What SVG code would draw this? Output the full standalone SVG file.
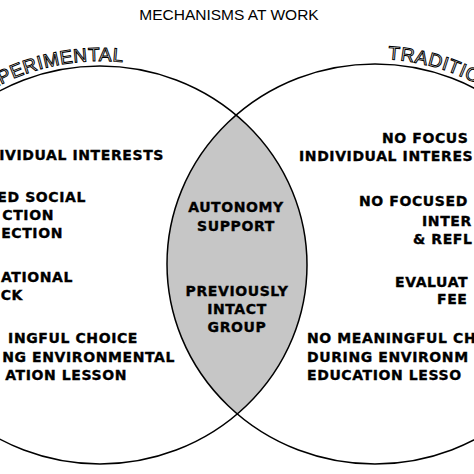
<svg xmlns="http://www.w3.org/2000/svg" width="474" height="474" viewBox="0 0 474 474">
<style>
.t{font-family:"DejaVu Sans","Liberation Sans",sans-serif;font-weight:bold;font-size:14px;letter-spacing:0.6px;fill:#000;stroke:#000;stroke-width:0.35}
.e{text-anchor:end}
.m{text-anchor:middle}
.ring{fill:none;stroke:#000;stroke-width:1.5}
.arc{font-family:"Liberation Sans",Arial,sans-serif;font-size:19px;letter-spacing:0.6px;fill:#fff;stroke:#000;stroke-width:1}
.title{font-family:"Liberation Sans",Arial,sans-serif;font-size:15.5px;fill:#000;text-anchor:middle}
</style>
<defs>
<clipPath id="leftClip"><ellipse cx="100" cy="265" rx="207" ry="199"/></clipPath>
<path id="leftArc" d="M-112,265 A212,204 0 0 1 312,265"/>
<path id="rightArc" d="M162,264 A213,205 0 0 1 588,264"/>
</defs>
<rect width="474" height="474" fill="#fff"/>
<text class="title" x="229" y="19.5">MECHANISMS AT WORK</text>
<g id="overlap">
<ellipse cx="375" cy="264" rx="208" ry="200" fill="#c6c6c6" clip-path="url(#leftClip)"/>
</g>
<g id="experimental">
<ellipse class="ring" cx="100" cy="265" rx="207" ry="199"/>
<text class="arc"><textPath href="#leftArc" startOffset="350" text-anchor="end">EXPERIMENTAL</textPath></text>
<text class="t e" x="164" y="160">IVIDUAL INTERESTS</text>
<text class="t e" x="86" y="202">ED SOCIAL</text>
<text class="t e" x="54" y="220">CTION</text>
<text class="t e" x="63" y="238">ECTION</text>
<text class="t e" x="73" y="282">ATIONAL</text>
<text class="t e" x="23" y="300">CK</text>
<text class="t e" x="138" y="343">INGFUL CHOICE</text>
<text class="t e" x="175" y="361.5">NG ENVIRONMENTAL</text>
<text class="t e" x="127" y="380">ATION LESSON</text>
</g>
<g id="traditional">
<ellipse class="ring" cx="375" cy="264" rx="208" ry="200"/>
<text class="arc"><textPath href="#rightArc" startOffset="341">TRADITIONAL</textPath></text>
<text class="t" x="382" y="143">NO FOCUS</text>
<text class="t" x="299" y="161">INDIVIDUAL INTERES</text>
<text class="t" x="359" y="206">NO FOCUSED</text>
<text class="t" x="422" y="226">INTER</text>
<text class="t" x="413" y="244">&amp; REFL</text>
<text class="t" x="395" y="287">EVALUAT</text>
<text class="t" x="437" y="303.5">FEE</text>
<text class="t" x="307" y="343">NO MEANINGFUL CH</text>
<text class="t" x="307" y="361.5">DURING ENVIRONM</text>
<text class="t" x="307" y="380">EDUCATION LESSO</text>
</g>
<g id="shared">
<text class="t m" x="236" y="212">AUTONOMY</text>
<text class="t m" x="236" y="231">SUPPORT</text>
<text class="t m" x="237" y="296">PREVIOUSLY</text>
<text class="t m" x="237" y="314">INTACT</text>
<text class="t m" x="237" y="332">GROUP</text>
</g>
<g id="connectors"/>
</svg>
